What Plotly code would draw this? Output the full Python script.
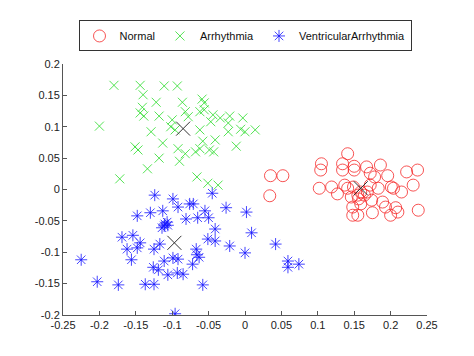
import plotly.graph_objects as go

# ---- data ----
normal_x = [0.035, 0.052, 0.034, 0.105, 0.104, 0.141, 0.134, 0.134, 0.150, 0.150,
            0.167, 0.186, 0.172, 0.178, 0.196, 0.222, 0.237, 0.102, 0.119, 0.127,
            0.137, 0.141, 0.149, 0.146, 0.159, 0.156, 0.159, 0.172, 0.183, 0.174,
            0.201, 0.204, 0.215, 0.231, 0.148, 0.189, 0.193, 0.207, 0.210, 0.175,
            0.148, 0.155, 0.200, 0.238, 0.155, 0.164, 0.168]
normal_y = [0.022, 0.022, -0.010, 0.041, 0.031, 0.057, 0.041, 0.031, 0.037, 0.031,
            0.036, 0.039, 0.026, 0.020, 0.022, 0.028, 0.031, 0.002, 0.004, -0.007,
            0.007, 0.002, 0.004, -0.012, -0.004, -0.015, -0.023, 0.007, 0.002, -0.017,
            0.004, 0.002, -0.004, 0.007, -0.028, -0.020, -0.028, -0.029, -0.036, -0.037,
            -0.041, -0.041, -0.041, -0.033, -0.009, -0.009, -0.004]

arr_x = [-0.180, -0.144, -0.111, -0.093, -0.140, -0.122, -0.086, -0.059, -0.056, -0.141,
         -0.144, -0.139, -0.118, -0.082, -0.078, -0.062, -0.056, -0.044, -0.034, -0.021,
         -0.003, -0.047, -0.023, -0.200, -0.100, -0.102, -0.096, -0.062, -0.023, -0.006,
         0.000, 0.014, -0.129, -0.113, -0.058, -0.041, -0.012, -0.151, -0.147, -0.092,
         -0.082, -0.068, -0.062, -0.049, -0.043, -0.118, -0.090, -0.134, -0.172, -0.066,
         -0.051, -0.037]
arr_y = [0.166, 0.166, 0.165, 0.165, 0.151, 0.139, 0.139, 0.144, 0.138, 0.131,
         0.122, 0.117, 0.117, 0.124, 0.116, 0.124, 0.127, 0.119, 0.114, 0.117,
         0.114, 0.108, 0.106, 0.101, 0.111, 0.100, 0.095, 0.095, 0.092, 0.096,
         0.092, 0.095, 0.092, 0.074, 0.077, 0.079, 0.069, 0.068, 0.063, 0.065,
         0.057, 0.060, 0.065, 0.063, 0.060, 0.050, 0.045, 0.033, 0.017, 0.020,
         0.010, 0.007]

vent_x = [-0.124, -0.099, -0.076, -0.071, -0.092, -0.045, -0.026, 0.002, -0.130, -0.148,
          -0.113, -0.081, -0.065, -0.050, -0.055, -0.107, -0.114, -0.106, -0.110, -0.111,
          -0.041, 0.009, -0.169, -0.154, -0.144, -0.148, -0.162, -0.125, -0.117, -0.051,
          -0.041, -0.021, -0.067, -0.066, -0.063, 0.000, -0.225, -0.156, -0.111, -0.099,
          -0.092, -0.072, -0.126, -0.119, -0.106, -0.093, -0.085, -0.203, -0.174, -0.137,
          -0.125, -0.058, -0.096, 0.042, 0.059, 0.059, 0.074]
vent_y = [-0.009, -0.015, -0.023, -0.023, -0.028, -0.006, -0.029, -0.036, -0.037, -0.042,
          -0.034, -0.047, -0.045, -0.045, -0.034, -0.052, -0.061, -0.057, -0.055, -0.058,
          -0.063, -0.069, -0.076, -0.073, -0.085, -0.093, -0.095, -0.095, -0.087, -0.079,
          -0.082, -0.090, -0.095, -0.104, -0.108, -0.101, -0.112, -0.112, -0.114, -0.109,
          -0.111, -0.119, -0.124, -0.128, -0.136, -0.133, -0.135, -0.147, -0.152, -0.151,
          -0.151, -0.152, -0.198, -0.087, -0.114, -0.124, -0.119]

centroid_x = [0.159, -0.085, -0.097]
centroid_y = [0.002, 0.097, -0.085]

x_ticks = [-0.25, -0.2, -0.15, -0.1, -0.05, 0, 0.05, 0.1, 0.15, 0.2, 0.25]
y_ticks = [-0.2, -0.15, -0.1, -0.05, 0, 0.05, 0.1, 0.15, 0.2]

fig = go.Figure()
fig.add_trace(go.Scatter(x=normal_x, y=normal_y, mode="markers", name="Normal",
                         marker=dict(symbol="circle-open", size=12, color="rgb(245,40,40)",
                                     line=dict(width=0.8, color="rgb(245,40,40)"))))
fig.add_trace(go.Scatter(x=arr_x, y=arr_y, mode="markers", name="Arrhythmia",
                         marker=dict(symbol="x-thin-open", size=9, color="rgb(40,220,40)",
                                     line=dict(width=0.8, color="rgb(40,220,40)"))))
fig.add_trace(go.Scatter(x=vent_x, y=vent_y, mode="markers", name="VentricularArrhythmia",
                         marker=dict(symbol="asterisk-open", size=10, color="rgb(20,20,255)",
                                     line=dict(width=0.8, color="rgb(20,20,255)"))))
fig.add_trace(go.Scatter(x=centroid_x, y=centroid_y, mode="markers", showlegend=False,
                         marker=dict(symbol="x-thin-open", size=14, color="rgb(50,50,50)",
                                     line=dict(width=1, color="rgb(50,50,50)"))))

axis_common = dict(showgrid=False, zeroline=False, showline=True, linecolor="#555",
                   linewidth=1, ticks="inside", ticklen=4, tickcolor="#555",
                   tickfont=dict(family="Liberation Sans, Arial", size=11, color="#222"),
                   mirror=False)
fig.update_xaxes(range=[-0.25, 0.25], tickvals=x_ticks,
                 ticktext=[f"{v:g}" for v in x_ticks], **axis_common)
fig.update_yaxes(range=[-0.2, 0.2], tickvals=y_ticks,
                 ticktext=[f"{v:g}" for v in y_ticks], **axis_common)

fig.update_layout(
    width=474, height=356,
    margin=dict(l=63, r=47, t=64, b=41),
    plot_bgcolor="white", paper_bgcolor="white",
    font=dict(family="Liberation Sans, Arial", size=11, color="#111"),
    legend=dict(orientation="h", x=0.5, xanchor="center", y=1.05, yanchor="bottom",
                bordercolor="#333", borderwidth=1, bgcolor="white",
                font=dict(size=11)),
)

fig.write_html("out.html", config={"displayModeBar": False},
               post_script="document.body.style.margin='0px';")
